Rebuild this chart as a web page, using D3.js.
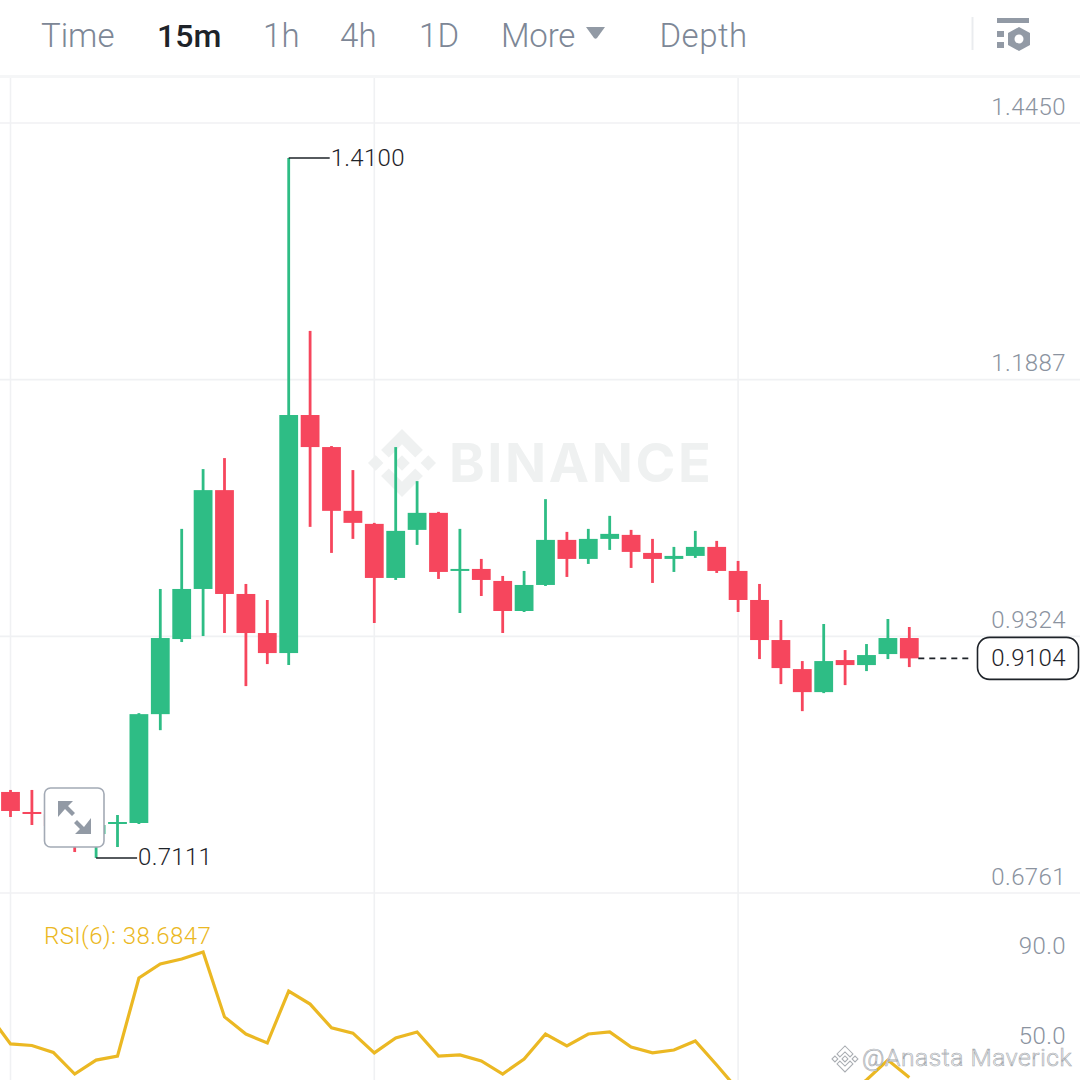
<!DOCTYPE html>
<html>
<head>
<meta charset="utf-8">
<script src="https://cdn.jsdelivr.net/npm/d3@7"></script>
<style>
html,body{margin:0;padding:0;background:#fff;width:1080px;height:1080px;overflow:hidden}
svg{display:block;font-family:Roboto,sans-serif}
</style>
</head>
<body>
<svg id="c" width="1080" height="1080"></svg>
<script>
const tabs = ["Time","15m","1h","4h","1D","More","Depth"];
const priceTicks = [1.4450,1.1887,0.9324,0.6761];
const rsiTicks = [90,50];
const opens = [.777,.757,.755,.743,.735,.745,.746,.8547,.9297,.9797,1.0784,.9747,.9357,.9157,1.1534,1.1214,1.0577,1.0447,.9907,1.0387,1.0557,.9977,.9997,.9877,.9577,.9837,1.0287,1.0097,1.0297,1.0337,1.0157,1.0097,1.0127,1.0217,.9977,.9687,.9287,.8997,.8767,.9087,.9037,.9147,.9307];
const closes = [.758,.755,.743,.735,.744,.747,.8547,.9307,.9797,1.0784,.9747,.9357,.9157,1.1534,1.1214,1.0577,1.0457,.9907,1.0377,1.0557,.9967,.9997,.9887,.9577,.9837,1.0287,1.0097,1.0297,1.0347,1.0167,1.0097,1.0127,1.0217,.9977,.9687,.9287,.9007,.8767,.9077,.9037,.9137,.9307,.9104];
const highs = [.779,.779,.761,.749,.749,.754,.8557,.9797,1.0397,1.0994,1.1104,.9847,.9687,1.4100,1.2374,1.1224,1.0984,1.0457,1.1214,1.0874,1.0567,1.0397,1.0097,.9927,.9977,1.0694,1.0367,1.0397,1.0527,1.0387,1.0297,1.0217,1.0377,1.0277,1.0077,.9847,.9487,.9077,.9447,.9187,.9247,.9497,.9417];
const lows = [.752,.744,.739,.717,.7111,.722,.745,.8387,.9267,.9327,.9357,.8827,.9047,.9037,1.0417,1.0157,1.0297,.9457,.9887,1.0237,.9897,.9557,.9727,.9357,.9567,.9827,.9917,1.0047,1.0187,1.0007,.9857,.9967,1.0107,.9957,.9567,.9097,.8847,.8577,.8757,.8837,.8977,.9097,.9017];
// RSI starts one bar before the first visible candle
const rsiValues = [66.4,53.6,52.9,49.8,40.2,46.4,48.2,82.9,89.1,91.3,94.4,65.6,58.0,54.0,77.1,71.3,60.7,58.4,49.6,56.2,58.9,48.2,48.7,46.0,40.2,46.9,58.0,52.7,58.0,58.9,52.2,49.6,50.9,54.9,44.2,33.1,25.0,21.0,19.0,27.0,30.0,37.6,46.4,38.6847];
const timeGridIdx = [0,17,34];

const UP="#2ebd85", DOWN="#f6465d", GRID="#f0f1f3", MUTED="#8b939f", DARK="#1e2329", RSI="#ebb823";
const LOGO="M38.73 53.2l24.59-24.58 24.6 24.6 14.3-14.31L63.32 0 24.42 38.9l14.31 14.3zM0 63.31l14.3-14.31 14.31 14.31-14.31 14.3zM38.73 73.41l24.59 24.59 24.6-24.6 14.31 14.29-38.9 38.91-38.91-38.88-.02-.02zM98 63.31l14.3-14.31 14.31 14.3-14.31 14.32zM77.83 63.3L63.32 48.78 52.59 59.51l-1.24 1.23-2.54 2.54 14.51 14.5 14.51-14.47z";

const svg=d3.select("#c");
const x=d3.scaleLinear().domain([0,42]).range([10.5,909.3]);
const y=d3.scaleLinear().domain([0.6761,1.4450]).range([893,123]);
const yr=d3.scaleLinear().domain([50,90]).range([1052,962]);

// header
const tabX=[41,157,263,340,419,501,659.5];
svg.append("g").selectAll("text").data(tabs).join("text")
  .attr("x",(d,i)=>tabX[i]).attr("y",47)
  .attr("font-size",d=>d==="15m"?32:33).attr("letter-spacing",d=>d==="More"?-0.2:d==="Depth"?0.5:d==="Time"?0:d==="15m"?0:0.3)
  .attr("font-weight",d=>d==="15m"?500:300)
  .attr("fill",d=>d==="15m"?DARK:"#7d8796").text(d=>d);
svg.append("path").attr("d","M586 27H605L597 38Q595.5 39.5 594 38Z").attr("fill","#929aa5");
svg.append("line").attr("x1",972.5).attr("x2",972.5).attr("y1",17).attr("y2",50).attr("stroke","#eaecef").attr("stroke-width",2);
const ic=svg.append("g").attr("fill","#929aa5");
ic.append("rect").attr("x",997).attr("y",18).attr("width",32).attr("height",5);
ic.append("rect").attr("x",997).attr("y",31).attr("width",7).attr("height",6);
ic.append("rect").attr("x",997).attr("y",42).attr("width",7).attr("height",6);
ic.append("path").attr("d","M1019 27L1030 33V45L1019 51L1008 45V33Z");
svg.append("circle").attr("cx",1019).attr("cy",39).attr("r",4.5).attr("fill","#fff");
svg.append("rect").attr("x",0).attr("y",75).attr("width",1080).attr("height",3).attr("fill","#f5f6f7");

// grid
svg.append("g").selectAll("line").data(priceTicks).join("line")
  .attr("x1",0).attr("x2",1080).attr("y1",d=>y(d)).attr("y2",d=>y(d))
  .attr("stroke",GRID).attr("stroke-width",1.6);
svg.append("g").selectAll("line").data(timeGridIdx).join("line")
  .attr("x1",d=>x(d)).attr("x2",d=>x(d)).attr("y1",78).attr("y2",1080)
  .attr("stroke",GRID).attr("stroke-width",1.6);

// watermark
svg.append("path").attr("d",LOGO).attr("fill","#eff1f1")
  .attr("transform","translate(368,429) scale(0.537)");
svg.append("text").attr("x",449).attr("y",482).attr("font-size",54).attr("font-weight",700)
  .attr("font-family","Inter,Roboto,sans-serif").attr("letter-spacing",2.6).attr("fill","#eff1f1").text("BINANCE");

// axes
function styleAxis(g){
  g.select(".domain").remove();
  g.selectAll("line").remove();
  g.selectAll("text").attr("x",0).attr("dy",0).attr("text-anchor","end")
    .attr("transform","translate(0,-9)").attr("fill",MUTED).attr("font-size",24).attr("font-weight",300)
    .attr("letter-spacing",0.4).attr("font-family","Roboto,sans-serif");
}
svg.append("g").attr("transform","translate(1066,0)")
  .call(d3.axisRight(y).tickValues(priceTicks).tickFormat(d3.format(".4f")).tickSize(0)).call(styleAxis);
svg.append("g").attr("transform","translate(1066,0)")
  .call(d3.axisRight(yr).tickValues(rsiTicks).tickFormat(d3.format(".1f")).tickSize(0)).call(styleAxis);

// candles
const idx=d3.range(opens.length);
const col=i=>closes[i]>=opens[i]?UP:DOWN;
const bars=svg.append("g");
bars.selectAll("line").data(idx).join("line")
  .attr("x1",x).attr("x2",x).attr("y1",i=>y(highs[i])).attr("y2",i=>y(lows[i]))
  .attr("stroke",col).attr("stroke-width",2.8);
bars.selectAll("rect").data(idx).join("rect")
  .attr("x",i=>x(i)-9.4).attr("width",18.8)
  .attr("y",i=>y(Math.max(opens[i],closes[i])))
  .attr("height",i=>Math.abs(y(opens[i])-y(closes[i])))
  .attr("fill",col);

// extremes
const hi=d3.greatest(idx,i=>highs[i]), lo=d3.least(idx,i=>lows[i]);
[[hi,highs[hi]],[lo,lows[lo]]].forEach(([i,v])=>{
  svg.append("line").attr("x1",x(i)).attr("x2",x(i)+41).attr("y1",y(v)).attr("y2",y(v))
    .attr("stroke",DARK).attr("stroke-width",1.6);
  svg.append("text").attr("x",x(i)+42).attr("y",y(v)+7.5).attr("font-size",24).attr("font-weight",300)
    .attr("letter-spacing",0.3).attr("fill",DARK).text(v.toFixed(4));
});

// last price
const last=closes[closes.length-1];
svg.append("line").attr("x1",x(42)+9).attr("x2",970).attr("y1",y(last)).attr("y2",y(last))
  .attr("stroke",DARK).attr("stroke-width",1.6).attr("stroke-dasharray","6 5");
svg.append("rect").attr("x",977.5).attr("y",y(last)-21).attr("width",101).attr("height",42).attr("rx",12)
  .attr("fill","#fff").attr("stroke",DARK).attr("stroke-width",1.6);
svg.append("text").attr("x",1066).attr("y",y(last)+8).attr("text-anchor","end").attr("font-size",24).attr("font-weight",300)
  .attr("letter-spacing",0.4).attr("fill",DARK).text(last.toFixed(4));

// expand button
svg.append("rect").attr("x",44.5).attr("y",788).attr("width",59.5).attr("height",59).attr("rx",6)
  .attr("fill","#fff").attr("stroke","#a3aab5").attr("stroke-width",1.6);
svg.append("path").attr("fill","#929aa5")
  .attr("d","M58 801H73L68 806L75 813L72 816L65 809L58 817ZM91 834H75L80 829L74 823L77 820L84 827L91 818Z");

// RSI
svg.append("path").datum(rsiValues)
  .attr("fill","none").attr("stroke",RSI).attr("stroke-width",3.2).attr("stroke-linejoin","miter")
  .attr("d",d3.line().x((d,i)=>x(i-1)).y(d=>yr(d)));
svg.append("text").attr("x",44).attr("y",943.5).attr("font-size",24).attr("font-weight",300).attr("letter-spacing",0.4).attr("fill",RSI)
  .text("RSI(6): "+rsiValues[rsiValues.length-1].toFixed(4));

// author watermark
svg.append("path").attr("d",LOGO).attr("fill","#fff").attr("stroke","#a9adb2").attr("stroke-width",5)
  .attr("transform","translate(832,1046) scale(0.205)");
svg.append("text").attr("x",862).attr("y",1066).attr("font-size",24.5).attr("font-weight",300).attr("letter-spacing",0.6)
  .attr("fill","#fff").attr("stroke","#a9adb2").attr("stroke-width",0.7).text("@Anasta Maverick");
</script>
</body>
</html>
